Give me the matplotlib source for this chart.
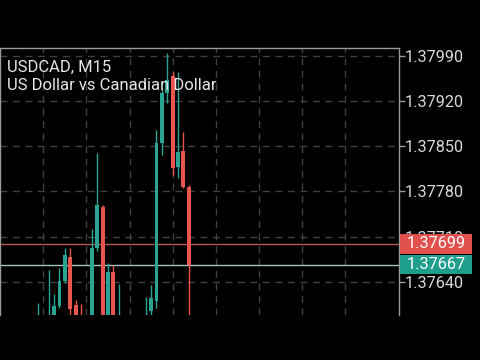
import numpy as np
import matplotlib.pyplot as plt
from matplotlib.patches import Rectangle
from matplotlib.transforms import blended_transform_factory

plt.rcParams['font.family'] = ['Roboto', 'DejaVu Sans']

# Candles (bar index, open, high, low, close) - M15 USDCAD
barras = np.arange(-1, 28)
aberturas = [1.37575, 1.37580, 1.37570, 1.37580, 1.37603, 1.37642, 1.37679, 1.37604, 1.37580,
             1.37570, 1.37575, 1.37692, 1.37756, 1.37580, 1.37656, 1.37580, 1.37570, 1.37575,
             1.37580, 1.37570, 1.37570, 1.37595, 1.37610, 1.37855, 1.37932, 1.37958, 1.37818,
             1.37842, 1.37787]
maximas = [1.37608, 1.37585, 1.37659, 1.37621, 1.37661, 1.37692, 1.37692, 1.37612, 1.37606,
           1.37580, 1.37722, 1.37840, 1.37759, 1.37669, 1.37666, 1.37637, 1.37580, 1.37582,
           1.37584, 1.37580, 1.37617, 1.37635, 1.37875, 1.37940, 1.37994, 1.37965, 1.37965,
           1.37872, 1.37790]
minimas = [1.37560, 1.37560, 1.37555, 1.37570, 1.37600, 1.37638, 1.37585, 1.37565, 1.37560,
           1.37550, 1.37560, 1.37688, 1.37560, 1.37570, 1.37570, 1.37570, 1.37555, 1.37560,
           1.37565, 1.37560, 1.37560, 1.37585, 1.37600, 1.37836, 1.37916, 1.37805, 1.37801,
           1.37785, 1.37560]
fechamentos = [1.37585, 1.37570, 1.37585, 1.37603, 1.37642, 1.37681, 1.37598, 1.37575, 1.37570,
               1.37560, 1.37692, 1.37759, 1.37575, 1.37656, 1.37580, 1.37585, 1.37565, 1.37570,
               1.37572, 1.37565, 1.37580, 1.37615, 1.37855, 1.37932, 1.37952, 1.37816, 1.37841,
               1.37787, 1.37667]

ticks_y = [1.37640, 1.37710, 1.37780, 1.37850, 1.37920, 1.37990]
preco_ask = 1.37699
preco_bid = 1.37667
titulo1 = "USDCAD, M15"
titulo2 = "US Dollar vs Canadian Dollar"

cor_alta = '#2aa594'
cor_baixa = '#e8554f'

fig = plt.figure(figsize=(4.8, 3.6), dpi=100, facecolor='black')
ax = fig.add_axes([0, 45/360, 399/480, 267/360])
ax.set_facecolor('black')

ax.set_xlim(-8.03, 66.0)
ax.set_ylim(1.37589, 1.380016)

# grade tracejada
ax.set_xticks(np.arange(0, 64, 8))
ax.set_yticks(ticks_y)
ax.grid(True, color='#404040', linestyle=(0, (5, 4)), linewidth=1)
ax.tick_params(axis='x', length=0, labelbottom=False)
ax.yaxis.tick_right()
ax.tick_params(axis='y', length=4, width=1, color='#9a9a9a', labelcolor='#d8d8d8',
               labelsize=11.7, pad=0)
ax.set_yticklabels([f'{v:.5f}' for v in ticks_y])

for lado in ['top', 'right', 'left']:
    ax.spines[lado].set_color('#9a9a9a')
    ax.spines[lado].set_linewidth(1)
ax.spines['bottom'].set_visible(False)

# linhas de preco
ax.axhline(preco_ask, color='#b25a55', linewidth=1, zorder=2)
ax.axhline(preco_bid, color='#a3c4bf', linewidth=1, zorder=2)

# candles
for i, o, h, l, c in zip(barras, aberturas, maximas, minimas, fechamentos):
    cor = cor_alta if c >= o else cor_baixa
    ax.vlines(i, l, h, color=cor, linewidth=1, zorder=3)
    ax.bar(i, max(abs(c - o), 0.000015), bottom=min(o, c), width=0.72,
           color=cor, edgecolor='none', zorder=3)

ax.text(0.0175, 0.928, titulo1, transform=ax.transAxes, color='#e6e6e6',
        fontsize=12, va='center', ha='left', zorder=5)
ax.text(0.0175, 0.858, titulo2, transform=ax.transAxes, color='#e6e6e6',
        fontsize=12, va='center', ha='left', zorder=5)

# etiquetas de preco a direita
y0, y1 = ax.get_ylim()
px_por_preco = ax.bbox.height / (y1 - y0)
alt = 19.5 / px_por_preco
larg = 72 / ax.bbox.width
trans = blended_transform_factory(ax.transAxes, ax.transData)
for valor, cor in [(preco_ask, '#e0504c'), (preco_bid, '#1f9e8e')]:
    ax.add_patch(Rectangle((1.003, valor - alt / 2), larg, alt, transform=trans,
                           facecolor=cor, edgecolor='none', clip_on=False, zorder=6))
    ax.text(1.003 + 6 / ax.bbox.width, valor, f'{valor:.5f}', transform=trans,
            color='white', fontsize=11.7, va='center', ha='left', clip_on=False, zorder=7)

fig.savefig('out.png', dpi=100, facecolor='black')
